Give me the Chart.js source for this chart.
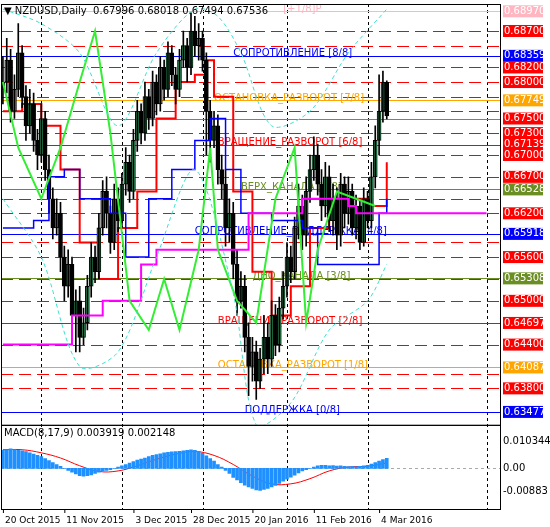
<!DOCTYPE html>
<html><head><meta charset="utf-8">
<script src="https://cdn.jsdelivr.net/npm/chart.js@4"></script>
<style>html,body{margin:0;padding:0;background:#fff}#w{width:550px;height:527px}</style>
</head><body><div id="w"><canvas id="c"></canvas></div>
<script>
const opens=[0.6790,0.6800,0.6830,0.6760,0.6790,0.6840,0.6780,0.6740,0.6770,0.6720,
0.6700,0.6750,0.6680,0.6640,0.6600,0.6620,0.6560,0.6520,0.6550,0.6480,
0.6500,0.6450,0.6470,0.6520,0.6560,0.6540,0.6600,0.6650,0.6620,0.6580,
0.6640,0.6610,0.6660,0.6690,0.6650,0.6720,0.6760,0.6730,0.6780,0.6750,
0.6800,0.6770,0.6820,0.6790,0.6840,0.6810,0.6790,0.6830,0.6850,0.6820,
0.6870,0.6850,0.6860,0.6830,0.6760,0.6720,0.6740,0.6680,0.6660,0.6600,
0.6620,0.6550,0.6500,0.6520,0.6450,0.6410,0.6430,0.6390,0.6420,0.6450,
0.6420,0.6480,0.6440,0.6490,0.6520,0.6560,0.6540,0.6600,0.6630,0.6590,
0.6650,0.6680,0.6700,0.6660,0.6630,0.6670,0.6610,0.6640,0.6590,0.6660,
0.6620,0.6650,0.6600,0.6630,0.6580,0.6640,0.6610,0.6670,0.6720,0.6760,0.67996];
const highs=[0.6835,0.6860,0.6845,0.6810,0.6880,0.6850,0.6795,0.6790,0.6785,0.6735,
0.6770,0.6760,0.6700,0.6655,0.6640,0.6635,0.6575,0.6570,0.6560,0.6515,
0.6520,0.6490,0.6535,0.6580,0.6575,0.6620,0.6665,0.6670,0.6630,0.6660,
0.6655,0.6675,0.6710,0.6700,0.6735,0.6775,0.6770,0.6800,0.6790,0.6815,
0.6810,0.6835,0.6830,0.6855,0.6850,0.6820,0.6845,0.6870,0.6860,0.6895,
0.6890,0.6880,0.6870,0.6840,0.6775,0.6760,0.6755,0.6700,0.6680,0.6640,
0.6635,0.6570,0.6540,0.6535,0.6470,0.6450,0.6445,0.6435,0.6480,0.6470,
0.6500,0.6495,0.6505,0.6540,0.6580,0.6575,0.6615,0.6660,0.6645,0.6670,
0.6700,0.6725,0.6715,0.6680,0.6690,0.6685,0.6660,0.6655,0.6675,0.6670,
0.6670,0.6660,0.6645,0.6640,0.6655,0.6650,0.6690,0.6740,0.6810,0.6815,0.68018];
const lows=[0.6770,0.6785,0.6745,0.6750,0.6780,0.6765,0.6720,0.6730,0.6705,0.6680,
0.6690,0.6665,0.6620,0.6585,0.6590,0.6540,0.6500,0.6505,0.6460,0.6430,
0.6430,0.6440,0.6460,0.6505,0.6525,0.6530,0.6590,0.6600,0.6565,0.6570,
0.6595,0.6600,0.6645,0.6635,0.6640,0.6705,0.6715,0.6720,0.6735,0.6740,
0.6755,0.6760,0.6775,0.6780,0.6795,0.6770,0.6780,0.6820,0.6800,0.6810,
0.6835,0.6830,0.6815,0.6700,0.6690,0.6710,0.6660,0.6640,0.6575,0.6580,
0.6530,0.6480,0.6490,0.6430,0.6370,0.6390,0.6365,0.6380,0.6400,0.6400,
0.6410,0.6425,0.6430,0.6475,0.6505,0.6525,0.6530,0.6585,0.6570,0.6575,
0.6635,0.6665,0.6645,0.6610,0.6615,0.6595,0.6590,0.6570,0.6575,0.6600,
0.6605,0.6590,0.6585,0.6570,0.6575,0.6600,0.6600,0.6655,0.6700,0.6745,0.67494];
const closes=[0.6800,0.6830,0.6760,0.6790,0.6840,0.6780,0.6740,0.6770,0.6720,0.6700,
0.6750,0.6680,0.6640,0.6600,0.6620,0.6560,0.6520,0.6550,0.6480,0.6500,
0.6450,0.6470,0.6520,0.6560,0.6540,0.6600,0.6650,0.6620,0.6580,0.6640,
0.6610,0.6660,0.6690,0.6650,0.6720,0.6760,0.6730,0.6780,0.6750,0.6800,
0.6770,0.6820,0.6790,0.6840,0.6810,0.6790,0.6830,0.6850,0.6820,0.6870,
0.6850,0.6860,0.6830,0.6760,0.6720,0.6740,0.6680,0.6660,0.6600,0.6620,
0.6550,0.6500,0.6520,0.6450,0.6410,0.6430,0.6390,0.6420,0.6450,0.6420,
0.6480,0.6440,0.6490,0.6520,0.6560,0.6540,0.6600,0.6630,0.6590,0.6650,
0.6680,0.6700,0.6660,0.6630,0.6670,0.6610,0.6640,0.6590,0.6660,0.6620,
0.6650,0.6600,0.6630,0.6580,0.6640,0.6610,0.6670,0.6720,0.6760,0.6800,0.67536];
// indicator key points: [bar index, value]
const redLine=[[0,0.676],[5,0.677],[10,0.674],[15,0.668],[20,0.658],[25,0.653],[30,0.660],[35,0.665],[40,0.675],[45,0.680],[50,0.681],[53,0.683],[55,0.678],[60,0.665],[65,0.654],[70,0.648],[75,0.652],[80,0.660],[85,0.664],[90,0.664],[95,0.663],[100,0.669]];
const blueLine=[[0,0.660],[8,0.661],[12,0.667],[16,0.668],[20,0.664],[28,0.662],[32,0.656],[38,0.664],[44,0.668],[50,0.672],[54,0.675],[58,0.668],[62,0.662],[70,0.661],[78,0.660],[82,0.655],[96,0.655],[98,0.662],[100,0.664]];
const magentaLine=[[0,0.644],[14,0.644],[18,0.648],[26,0.650],[36,0.655],[40,0.657],[60,0.657],[64,0.662],[78,0.664],[90,0.663],[92,0.662],[126,0.662]];
const greenLine=[[0,0.680],[4,0.671],[10,0.664],[15,0.671],[20,0.680],[24,0.687],[28,0.673],[33,0.650],[38,0.646],[42,0.653],[46,0.646],[51,0.657],[54,0.671],[56,0.657],[61,0.650],[66,0.647],[71,0.664],[76,0.671],[79,0.647],[82,0.657],[87,0.665],[92,0.664],[97,0.663]];
const cyanUpper=[[0,0.690],[10,0.688],[20,0.684],[30,0.674],[40,0.684],[50,0.690],[56,0.689],[62,0.684],[70,0.674],[80,0.676],[90,0.684],[100,0.690]];
const cyanLower=[[0,0.664],[10,0.656],[20,0.641],[30,0.643],[40,0.656],[50,0.668],[60,0.651],[66,0.633],[75,0.636],[85,0.646],[95,0.650],[100,0.655]];
const macdHist=[0.0070,0.0072,0.0075,0.0073,0.0070,0.0068,0.0065,0.0060,0.0055,0.0050,
0.0045,0.0038,0.0030,0.0022,0.0015,0.0008,0.0000,-0.0008,-0.0015,-0.0022,
-0.0028,-0.0030,-0.0028,-0.0025,-0.0020,-0.0015,-0.0010,-0.0008,-0.0005,0.0000,
0.0005,0.0010,0.0015,0.0020,0.0026,0.0032,0.0036,0.0040,0.0045,0.0050,
0.0053,0.0056,0.0060,0.0062,0.0064,0.0065,0.0066,0.0068,0.0070,0.0072,
0.0070,0.0066,0.0058,0.0048,0.0038,0.0028,0.0015,0.0005,-0.0008,-0.0020,
-0.0035,-0.0045,-0.0055,-0.0065,-0.0072,-0.0078,-0.0083,-0.0085,-0.0082,-0.0078,
-0.0072,-0.0066,-0.0058,-0.0050,-0.0042,-0.0034,-0.0026,-0.0018,-0.0010,-0.0005,
0.0000,0.0005,0.0010,0.0012,0.0012,0.0010,0.0011,0.0009,0.0010,0.0008,
0.0007,0.0008,0.0006,0.0008,0.0010,0.0012,0.0016,0.0022,0.0028,0.0034,0.0039];
const macdSignal=[[0,0.0072],[5,0.0072],[10,0.0060],[15,0.0040],[20,0.0010],[25,-0.0012],[30,-0.0010],[35,0.0010],[40,0.0035],[45,0.0055],[50,0.0065],[55,0.0050],[60,0.0015],[65,-0.0030],[70,-0.0060],[75,-0.0060],[80,-0.0040],[85,-0.0010],[90,0.0005],[95,0.0008],[100,0.0021]];
const dateLabels=[[0,'20 Oct 2015'],[16,'11 Nov 2015'],[34,'3 Dec 2015'],[49,'28 Dec 2015'],[65,'20 Jan 2016'],[81,'11 Feb 2016'],[98,'4 Mar 2016']];
const gridBars=[10,31,52,74,95,126];
const solidLevels=[[0.6897,'#FFB6C1'],[0.68359,'#0000FF'],[0.67749,'#FFA500'],[0.6750,'#708090'],[0.67139,'#FF0000'],[0.66528,'#6B8E23'],[0.65918,'#0000FF'],[0.65308,'#6B8E23'],[0.64697,'#FF0000'],[0.64087,'#FFA500'],[0.63477,'#0000FF']];
const dashedLevels=[0.6870,0.6850,0.6820,0.6800,0.6780,0.6760,0.6730,0.6700,0.6670,0.6640,0.6620,0.6580,0.6560,0.6530,0.6500,0.6470,0.6440,0.6400,0.6380];
const levelTexts=[[0.6897,'[+1/8]P','#FFB6C1',73],[0.68359,'СОПРОТИВЛЕНИЕ [8/8]','#0000FF',60],[0.67749,'ОСТАНОВКА_РАЗВОРОТ [7/8]','#FFA500',55],[0.67139,'ВРАЩЕНИЕ_РАЗВОРОТ [6/8]','#FF0000',56],[0.66528,'ВЕРХ_КАНАЛА [5/8]','#6B8E23',62],[0.65918,'СОПРОТИВЛЕНИЕ_ПОДДЕРЖКА [4/8]','#0000FF',50],[0.65308,'ДНО_КАНАЛА [3/8]','#6B8E23',65],[0.64697,'ВРАЩЕНИЕ_РАЗВОРОТ [2/8]','#FF0000',56],[0.64087,'ОСТАНОВКА_РАЗВОРОТ [1/8]','#FFA500',56],[0.63477,'ПОДДЕРЖКА [0/8]','#0000FF',63]];
const priceBoxes=[[0.68970,'#FFB6C1'],[0.68700,'#FF0000'],[0.68359,'#0000FF'],[0.68200,'#FF0000'],[0.68000,'#FF0000'],[0.67749,'#FFA500'],[0.67500,'#FF0000'],[0.67300,'#FF0000'],[0.67139,'#FF0000'],[0.67000,'#FF0000'],[0.66700,'#FF0000'],[0.66528,'#6B8E23'],[0.66200,'#FF0000'],[0.65918,'#0000FF'],[0.65600,'#FF0000'],[0.65308,'#6B8E23'],[0.65000,'#FF0000'],[0.64697,'#FF0000'],[0.64400,'#FF0000'],[0.64087,'#FFA500'],[0.63800,'#FF0000'],[0.63477,'#0000FF']];
const macdTicks=[[0.010344,'0.010344'],[0,'0.00'],[-0.00883,'-0.00883']];

const pts=a=>a.map(p=>({x:p[0],y:p[1]}));
const idx=closes.map((_,i)=>i);
const overlay={id:'ov',
 beforeDatasetsDraw(ch){const c=ch.ctx,ca=ch.chartArea,x=ch.scales.x,y=ch.scales.y,y2=ch.scales.y2;
  c.save();
  c.strokeStyle='#000';c.setLineDash([3,3]);c.lineWidth=1;
  gridBars.forEach(b=>{const px=Math.round(x.getPixelForValue(b))+.5;c.beginPath();c.moveTo(px,y.top);c.lineTo(px,y2.bottom);c.stroke();});
  c.strokeStyle='#FF0000';c.setLineDash([12,6]);
  dashedLevels.forEach(v=>{const py=Math.round(y.getPixelForValue(v))+.5;c.beginPath();c.moveTo(ca.left,py);c.lineTo(ca.right,py);c.stroke();});
  c.setLineDash([]);
  solidLevels.forEach(l=>{const py=Math.round(y.getPixelForValue(l[0]))+.5;c.strokeStyle=l[1];c.beginPath();c.moveTo(ca.left,py);c.lineTo(ca.right,py);c.stroke();});
  c.strokeStyle='#aaa';c.setLineDash([3,3]);const z=Math.round(y2.getPixelForValue(0))+.5;c.beginPath();c.moveTo(ca.left,z);c.lineTo(ca.right,z);c.stroke();
  c.setLineDash([]);
  c.font='10px "DejaVu Sans"';c.textBaseline='middle';
  levelTexts.forEach(t=>{c.fillStyle=t[2];c.fillText(t[1],x.getPixelForValue(t[3]),y.getPixelForValue(t[0])-2);});
  c.restore();},
 afterDraw(ch){const c=ch.ctx,ca=ch.chartArea,x=ch.scales.x,y=ch.scales.y,y2=ch.scales.y2;
  c.save();c.strokeStyle='#000';c.lineWidth=1;
  c.strokeRect(ca.left+.5,y.top+.5,ca.right-ca.left,y.bottom-y.top);
  c.strokeRect(ca.left+.5,y2.top+.5,ca.right-ca.left,y2.bottom-y2.top);
  c.font='10px "DejaVu Sans"';c.textBaseline='middle';
  priceBoxes.forEach(b=>{const py=y.getPixelForValue(b[0]);c.fillStyle=b[1];c.fillRect(ca.right+3,py-6,40,12);c.fillStyle='#fff';c.fillText(b[0].toFixed(5),ca.right+4,py);});
  c.fillStyle='#000';
  macdTicks.forEach(t=>c.fillText(t[1],ca.right+3,y2.getPixelForValue(t[0])));
  c.textBaseline='alphabetic';
  c.fillText('▼ NZDUSD,Daily  0.67996 0.68018 0.67494 0.67536',ca.left+3,y.top+10);
  c.fillText('MACD(8,17,9) 0.003919 0.002148',ca.left+3,y2.top+11);
  c.font='9px "DejaVu Sans"';
  dateLabels.forEach(d=>{const px=x.getPixelForValue(d[0]);c.fillText(d[1],px+2,y2.bottom+14);c.beginPath();c.moveTo(px+.5,y2.bottom);c.lineTo(px+.5,y2.bottom+4);c.stroke();});
  c.restore();}
};
new Chart(document.getElementById('c'),{
 data:{datasets:[
  {type:'line',data:pts(cyanUpper),borderColor:'#40E0D0',borderWidth:1,borderDash:[4,3],pointRadius:0,yAxisID:'y',tension:0.3},
  {type:'line',data:pts(cyanLower),borderColor:'#40E0D0',borderWidth:1,borderDash:[4,3],pointRadius:0,yAxisID:'y',tension:0.3},
  {type:'line',data:pts(greenLine),borderColor:'#33EE33',borderWidth:2,pointRadius:0,yAxisID:'y'},
  {type:'line',data:pts(magentaLine),borderColor:'#FF00FF',borderWidth:2,pointRadius:0,stepped:true,yAxisID:'y'},
  {type:'line',data:pts(blueLine),borderColor:'#0000FF',borderWidth:1.5,pointRadius:0,stepped:true,yAxisID:'y'},
  {type:'bar',data:idx.map(i=>({x:i,y:[lows[i],highs[i]]})),backgroundColor:'#000',barThickness:1,grouped:false,yAxisID:'y'},
  {type:'bar',data:idx.map(i=>({x:i,y:[opens[i],closes[i]===opens[i]?closes[i]+0.00005:closes[i]]})),backgroundColor:idx.map(i=>closes[i]>=opens[i]?'#3CB371':'#000'),borderColor:'#000',borderWidth:1,borderSkipped:false,barThickness:4,grouped:false,yAxisID:'y'},
  {type:'line',data:pts(redLine),borderColor:'#FF0000',borderWidth:2,pointRadius:0,stepped:true,yAxisID:'y'},
  {type:'bar',data:idx.map(i=>({x:i,y:macdHist[i]})),backgroundColor:'#1E90FF',barThickness:3,grouped:false,yAxisID:'y2'},
  {type:'line',data:pts(macdSignal),borderColor:'#FF0000',borderWidth:1,pointRadius:0,tension:0.4,yAxisID:'y2'}
 ]},
 options:{responsive:true,maintainAspectRatio:false,animation:false,
  layout:{padding:{left:1,top:4,right:42,bottom:18}},
  plugins:{legend:{display:false},tooltip:{enabled:false}},
  scales:{
   x:{type:'linear',min:-0.5,max:129.5,offset:false,display:false},
   y:{type:'linear',position:'right',stack:'s',stackWeight:5,min:0.6330,max:0.6907,ticks:{display:false},grid:{display:false},border:{display:false}},
   y2:{type:'linear',position:'right',stack:'s',stackWeight:1,min:-0.0103,max:0.0114,offset:true,ticks:{display:false},grid:{display:false},border:{display:false}}
  }}
 ,plugins:[overlay]});
</script></body></html>
